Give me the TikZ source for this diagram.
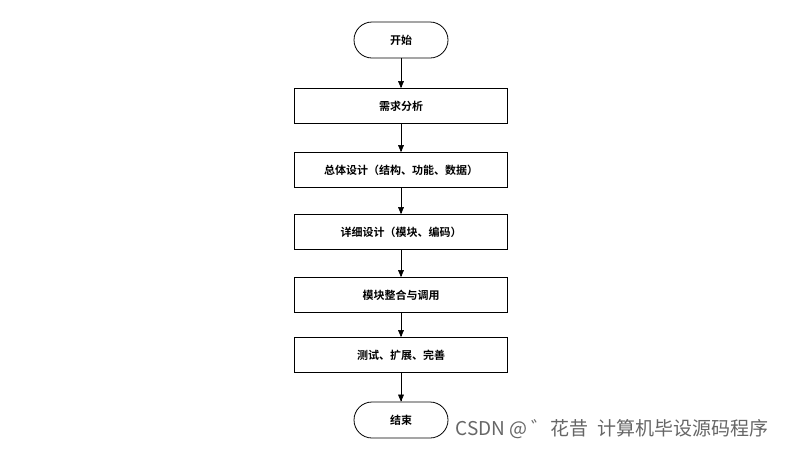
\documentclass[tikz,border=0pt]{standalone}
\usepackage{fontspec}
\newfontfamily\cjk{Noto Sans CJK SC}
\newfontfamily\cjkb{Noto Sans CJK SC Bold}
\usetikzlibrary{arrows}
\usetikzlibrary{positioning}
\tikzset{
  proc/.style={draw,thick,minimum width=213pt,minimum height=35pt,
    font=\cjkb\fontsize{11}{12}\selectfont},
  term/.style={draw,thick,rounded corners=18pt,minimum width=94pt,
    minimum height=36pt,font=\cjkb\fontsize{11}{12}\selectfont}
}
\begin{document}
\begin{tikzpicture}[->,>=triangle 45,
      x=1pt,y=-1pt,
      semithick]

    \useasboundingbox (0,0) rectangle (790,448);

    \node[term]
      (Start) at (401,40) {开始};
    \node[proc]
      (Req) at (401,106) {需求分析};
    \node[proc]
      (Overall) at (401,170) {总体设计（结构、功能、数据）};
    \node[proc]
      (Detail) at (401,232) {详细设计（模块、编码）};
    \node[proc]
      (Merge) at (401,295) {模块整合与调用};
    \node[proc]
      (Test) at (401,355) {测试、扩展、完善};
    \node[term]
      (End) at (401,420) {结束};

    \path[->]
      (Start) edge (Req)
      (Req) edge (Overall)
      (Overall) edge (Detail)
      (Detail) edge (Merge)
      (Merge) edge (Test)
      (Test) edge (End);

    \node[text=black!60,font=\cjk\fontsize{19}{20}\selectfont]
      (Mark) at (612,429) {CSDN @ ゛花昔\ \ 计算机毕设源码程序};

  \end{tikzpicture}
\end{document}
